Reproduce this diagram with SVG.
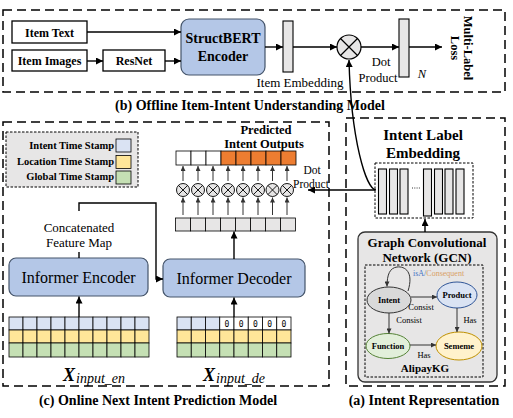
<svg xmlns="http://www.w3.org/2000/svg" width="513" height="418" viewBox="0 0 513 418" font-family="'Liberation Serif', 'Times New Roman', serif">
<defs>
<marker id="ah" viewBox="0 0 10 10" refX="10" refY="5" markerWidth="8" markerHeight="7" markerUnits="userSpaceOnUse" orient="auto">
<path d="M0,0 L10,5 L0,10 z" fill="#000"/>
</marker>
<marker id="ahs" viewBox="0 0 10 10" refX="10" refY="5" markerWidth="6" markerHeight="5" markerUnits="userSpaceOnUse" orient="auto">
<path d="M0,0 L10,5 L0,10 z" fill="#333"/>
</marker>
<style>
text{font-family:'Liberation Serif','Times New Roman',serif;fill:#000}
text.mono{font-family:'DejaVu Sans Mono',monospace}
.b{font-weight:bold}
.dash{fill:none;stroke:#000;stroke-width:1.5;stroke-dasharray:9 5}
.dot{stroke:#000;stroke-width:1;stroke-dasharray:2.5 1.5}
.box{fill:#fff;stroke:#000;stroke-width:1.3}
.blue{fill:#b4c7e7;stroke:#44546a;stroke-width:1.2}
.bar{fill:#e7e6e6;stroke:#000;stroke-width:1.1}
.ln{fill:none;stroke:#000;stroke-width:1.4}
.lns{fill:none;stroke:#333;stroke-width:1}
.c1{fill:#dae3f3;stroke:#000;stroke-width:0.8}
.c2{fill:#ffe699;stroke:#000;stroke-width:0.8}
.c3{fill:#c5e0b4;stroke:#000;stroke-width:0.8}
.cw{fill:#fff;stroke:#000;stroke-width:0.8}
.cg{fill:#e7e6e6;stroke:#000;stroke-width:0.8}
.co{fill:#ed7d31;stroke:#000;stroke-width:0.8}
.m{font-size:14px}
</style>
</defs>
<rect width="513" height="418" fill="#fff"/>

<!-- section frames -->
<g id="frame-b">
<rect class="dash" x="3" y="10" width="502" height="82"/>
<text class="b m" x="250" y="110" text-anchor="middle">(b) Offline Item-Intent Understanding Model</text>
</g>
<g id="frame-c">
<rect class="dash" x="3" y="122" width="326" height="264"/>
<text class="b m" x="158" y="405" text-anchor="middle">(c) Online Next Intent Prediction Model</text>
</g>
<g id="frame-a">
<rect class="dash" x="346" y="118" width="159" height="268"/>
<text class="b m" x="424" y="405" text-anchor="middle">(a) Intent Representation</text>
</g>

<!-- (b) nodes -->
<g id="item-text">
<rect class="box" x="12" y="21" width="75" height="22"/>
<text class="b" x="49.5" y="36.5" font-size="12" text-anchor="middle">Item Text</text>
</g>
<g id="item-images">
<rect class="box" x="12" y="50" width="75" height="21"/>
<text class="b" x="49.5" y="65" font-size="12" text-anchor="middle">Item Images</text>
</g>
<g id="resnet">
<rect class="box" x="103" y="50" width="62" height="21"/>
<text class="b" x="134" y="65" font-size="12" text-anchor="middle">ResNet</text>
</g>
<g id="structbert">
<rect class="blue" x="181" y="19" width="84" height="56" rx="8"/>
<text class="b" x="223" y="43" font-size="14" text-anchor="middle">StructBERT</text>
<text class="b" x="223" y="61" font-size="14" text-anchor="middle">Encoder</text>
</g>
<g id="item-embedding">
<rect class="bar" x="283" y="21" width="10" height="51"/>
<text x="300" y="87" font-size="13" text-anchor="middle">Item Embedding</text>
</g>
<g id="dot-top">
<circle cx="349" cy="47" r="12" fill="#e7e6e6" stroke="#000" stroke-width="1.2"/>
<path d="M340.5,38.5 L357.5,55.5 M357.5,38.5 L340.5,55.5" stroke="#000" stroke-width="1.2"/>
<text x="381" y="66" font-size="12.5" text-anchor="middle">Dot</text>
<text x="378" y="82" font-size="12.5" text-anchor="middle">Product</text>
</g>
<g id="output-bar">
<rect class="bar" x="399" y="19" width="10" height="58"/>
<text x="422" y="78" font-size="12.5" font-style="italic" text-anchor="middle">N</text>
</g>
<g id="loss">
<text class="b" font-size="12.5" text-anchor="middle" transform="translate(464,48) rotate(90)">Multi-Label</text>
<text class="b" font-size="12.5" text-anchor="middle" transform="translate(451,48) rotate(90)">Loss</text>
</g>

<!-- (c) legend -->
<g id="legend">
<rect x="6" y="132" width="132" height="55" fill="#e7e6e6" class="dot"/>
<text class="b" x="114" y="149" font-size="10.5" text-anchor="end">Intent Time Stamp</text>
<text class="b" x="114" y="164.5" font-size="10.5" text-anchor="end">Location Time Stamp</text>
<text class="b" x="114" y="180" font-size="10.5" text-anchor="end">Global Time Stamp</text>
<rect class="c1" x="116" y="139" width="15" height="13"/>
<rect class="c2" x="116" y="155.5" width="15" height="13"/>
<rect class="c3" x="116" y="171" width="15" height="13"/>
</g>

<g id="informer-encoder">
<rect class="blue" x="9" y="258" width="139" height="38" rx="7"/>
<text x="78.5" y="283" font-size="16" text-anchor="middle">Informer Encoder</text>
</g>
<g id="feature-map-label">
<text x="79" y="232" font-size="13" text-anchor="middle">Concatenated</text>
<text x="79" y="247" font-size="13" text-anchor="middle">Feature Map</text>
</g>

<g id="encoder-input">
<rect class="c1" x="9" y="317" width="14" height="13"/><rect class="c1" x="23" y="317" width="14" height="13"/><rect class="c1" x="37" y="317" width="14" height="13"/><rect class="c1" x="51" y="317" width="14" height="13"/><rect class="c1" x="65" y="317" width="14" height="13"/><rect class="c1" x="79" y="317" width="14" height="13"/><rect class="c1" x="93" y="317" width="14" height="13"/><rect class="c1" x="107" y="317" width="14" height="13"/><rect class="c1" x="121" y="317" width="14" height="13"/><rect class="c1" x="135" y="317" width="14" height="13"/>
<rect class="c2" x="9" y="330" width="14" height="13"/><rect class="c2" x="23" y="330" width="14" height="13"/><rect class="c2" x="37" y="330" width="14" height="13"/><rect class="c2" x="51" y="330" width="14" height="13"/><rect class="c2" x="65" y="330" width="14" height="13"/><rect class="c2" x="79" y="330" width="14" height="13"/><rect class="c2" x="93" y="330" width="14" height="13"/><rect class="c2" x="107" y="330" width="14" height="13"/><rect class="c2" x="121" y="330" width="14" height="13"/><rect class="c2" x="135" y="330" width="14" height="13"/>
<rect class="c3" x="9" y="343" width="14" height="14"/><rect class="c3" x="23" y="343" width="14" height="14"/><rect class="c3" x="37" y="343" width="14" height="14"/><rect class="c3" x="51" y="343" width="14" height="14"/><rect class="c3" x="65" y="343" width="14" height="14"/><rect class="c3" x="79" y="343" width="14" height="14"/><rect class="c3" x="93" y="343" width="14" height="14"/><rect class="c3" x="107" y="343" width="14" height="14"/><rect class="c3" x="121" y="343" width="14" height="14"/><rect class="c3" x="135" y="343" width="14" height="14"/>
<text x="63" y="381" font-size="18" font-weight="bold" font-style="italic">X</text>
<text x="76" y="383" font-size="14" font-style="italic">input_en</text>
</g>

<g id="informer-decoder">
<rect class="blue" x="163" y="259" width="142" height="38" rx="7"/>
<text x="234" y="284" font-size="16" text-anchor="middle">Informer Decoder</text>
</g>

<g id="decoder-input">
<rect class="c1" x="177" y="317" width="14.25" height="13"/><rect class="c1" x="191.25" y="317" width="14.25" height="13"/><rect class="c1" x="205.5" y="317" width="14.25" height="13"/>
<rect class="cw" x="219.75" y="317" width="14.25" height="13"/><rect class="cw" x="234" y="317" width="14.25" height="13"/><rect class="cw" x="248.25" y="317" width="14.25" height="13"/><rect class="cw" x="262.5" y="317" width="14.25" height="13"/><rect class="cw" x="276.75" y="317" width="14.25" height="13"/>
<text class="mono" x="226.9" y="326.5" font-size="8" text-anchor="middle">0</text><text class="mono" x="241.1" y="326.5" font-size="8" text-anchor="middle">0</text><text class="mono" x="255.4" y="326.5" font-size="8" text-anchor="middle">0</text><text class="mono" x="269.6" y="326.5" font-size="8" text-anchor="middle">0</text><text class="mono" x="283.9" y="326.5" font-size="8" text-anchor="middle">0</text>
<rect class="c2" x="177" y="330" width="14.25" height="13"/><rect class="c2" x="191.25" y="330" width="14.25" height="13"/><rect class="c2" x="205.5" y="330" width="14.25" height="13"/><rect class="c2" x="219.75" y="330" width="14.25" height="13"/><rect class="c2" x="234" y="330" width="14.25" height="13"/><rect class="c2" x="248.25" y="330" width="14.25" height="13"/><rect class="c2" x="262.5" y="330" width="14.25" height="13"/><rect class="c2" x="276.75" y="330" width="14.25" height="13"/>
<rect class="c3" x="177" y="343" width="14.25" height="14"/><rect class="c3" x="191.25" y="343" width="14.25" height="14"/><rect class="c3" x="205.5" y="343" width="14.25" height="14"/><rect class="c3" x="219.75" y="343" width="14.25" height="14"/><rect class="c3" x="234" y="343" width="14.25" height="14"/><rect class="c3" x="248.25" y="343" width="14.25" height="14"/><rect class="c3" x="262.5" y="343" width="14.25" height="14"/><rect class="c3" x="276.75" y="343" width="14.25" height="14"/>
<text x="203" y="381" font-size="18" font-weight="bold" font-style="italic">X</text>
<text x="216" y="383" font-size="14" font-style="italic">input_de</text>
</g>

<g id="decoder-output">
<rect class="cg" x="175.5" y="218" width="15" height="13"/><rect class="cg" x="190.5" y="218" width="15" height="13"/><rect class="cg" x="205.5" y="218" width="15" height="13"/><rect class="cg" x="220.5" y="218" width="15" height="13"/><rect class="cg" x="235.5" y="218" width="15" height="13"/><rect class="cg" x="250.5" y="218" width="15" height="13"/><rect class="cg" x="265.5" y="218" width="15" height="13"/><rect class="cg" x="280.5" y="218" width="15" height="13"/>
</g>

<g id="dot-row" stroke="#000" stroke-width="0.9">
<g fill="#e7e6e6">
<circle cx="183" cy="190" r="6.5"/><circle cx="198" cy="190" r="6.5"/><circle cx="213" cy="190" r="6.5"/><circle cx="228" cy="190" r="6.5"/><circle cx="243" cy="190" r="6.5"/><circle cx="258" cy="190" r="6.5"/><circle cx="272.5" cy="190" r="6.5"/><circle cx="287" cy="190" r="6.5"/>
</g>
<path d="M178.4,185.4l9.2,9.2m0,-9.2l-9.2,9.2 M193.4,185.4l9.2,9.2m0,-9.2l-9.2,9.2 M208.4,185.4l9.2,9.2m0,-9.2l-9.2,9.2 M223.4,185.4l9.2,9.2m0,-9.2l-9.2,9.2 M238.4,185.4l9.2,9.2m0,-9.2l-9.2,9.2 M253.4,185.4l9.2,9.2m0,-9.2l-9.2,9.2 M267.9,185.4l9.2,9.2m0,-9.2l-9.2,9.2 M282.4,185.4l9.2,9.2m0,-9.2l-9.2,9.2" fill="none"/>
</g>
<g id="dot-label">
<text x="312" y="174" font-size="11.5" text-anchor="middle">Dot</text>
<text x="311" y="188" font-size="11.5" text-anchor="middle">Product</text>
</g>

<g id="predicted-outputs">
<text class="b" x="266" y="134" font-size="12.5" text-anchor="middle">Predicted</text>
<text class="b" x="264" y="148" font-size="12.5" text-anchor="middle">Intent Outputs</text>
<rect class="cw" x="176" y="151" width="15" height="14"/><rect class="cw" x="191" y="151" width="15" height="14"/><rect class="cw" x="206" y="151" width="15" height="14"/>
<rect class="co" x="221" y="151" width="15" height="14"/><rect class="co" x="236" y="151" width="15" height="14"/><rect class="co" x="251" y="151" width="15" height="14"/><rect class="co" x="266" y="151" width="15" height="14"/><rect class="co" x="281" y="151" width="15" height="14"/>
</g>

<!-- (a) nodes -->
<g id="intent-label-embedding">
<text class="b" x="423" y="140" font-size="15" text-anchor="middle">Intent Label</text>
<text class="b" x="423" y="158" font-size="15" text-anchor="middle">Embedding</text>
<rect x="375" y="163" width="98" height="55" fill="none" class="dot"/>
<rect class="bar" x="378.5" y="169" width="8" height="45"/>
<rect class="bar" x="389.5" y="169" width="8" height="45"/>
<rect class="bar" x="400" y="169" width="8" height="45"/>
<rect class="bar" x="423.5" y="169" width="8" height="47"/>
<rect class="bar" x="434.5" y="169" width="8" height="45"/>
<rect class="bar" x="445" y="169" width="8" height="45"/>
<rect class="bar" x="456" y="169" width="8" height="45"/>
<path d="M412,188 L421,188" stroke="#000" stroke-width="0.8" stroke-dasharray="1 1.3"/>
</g>

<g id="gcn">
<rect x="358" y="232" width="139" height="150" rx="7" fill="#e7e6e6" stroke="#333" stroke-width="1.3"/>
<text class="b" x="427" y="247" font-size="13" text-anchor="middle">Graph Convolutional</text>
<text class="b" x="427" y="262" font-size="13" text-anchor="middle">Network (GCN)</text>
<rect x="365" y="265" width="118" height="112" fill="none" class="dot" stroke-width="0.8"/>
<text class="b" x="425" y="372" font-size="11" text-anchor="middle">AlipayKG</text>
</g>
<g id="kg-intent">
<ellipse cx="389" cy="300" rx="22" ry="13" fill="#d9d9d9" stroke="#333" stroke-width="1"/>
<text class="b" x="389" y="303" font-size="8.5" text-anchor="middle">Intent</text>
</g>
<g id="kg-product">
<ellipse cx="457" cy="295" rx="20" ry="13" fill="#dae3f3" stroke="#2f5597" stroke-width="1"/>
<text class="b" x="457" y="298" font-size="8.5" text-anchor="middle">Product</text>
</g>
<g id="kg-function">
<ellipse cx="388" cy="346" rx="22" ry="12.5" fill="#e2efda" stroke="#548235" stroke-width="1"/>
<text class="b" x="388" y="349" font-size="8.5" text-anchor="middle">Function</text>
</g>
<g id="kg-sememe">
<ellipse cx="459" cy="346" rx="23" ry="14" fill="#fff2cc" stroke="#bf9000" stroke-width="1"/>
<text class="b" x="459" y="349" font-size="8.5" text-anchor="middle">Sememe</text>
</g>
<g id="kg-labels">
<text x="413" y="276" font-size="8"><tspan fill="#4472c4">isA/</tspan><tspan fill="#d9a066">Consequent</tspan></text>
<text x="421" y="310" font-size="8.5" text-anchor="middle">Consist</text>
<text x="409" y="323" font-size="8.5" text-anchor="middle">Consist</text>
<text x="470" y="323" font-size="8.5" text-anchor="middle">Has</text>
<text x="424" y="358" font-size="8.5" text-anchor="middle">Has</text>
</g>

<!-- connectors -->
<g id="connectors">
<path class="ln" d="M87,32 L181,32" marker-end="url(#ah)"/>
<path class="ln" d="M87,61 L103,61" marker-end="url(#ah)"/>
<path class="ln" d="M165,61 L181,61" marker-end="url(#ah)"/>
<path class="ln" d="M265,47 L283,47" marker-end="url(#ah)"/>
<path class="ln" d="M293,47 L337,47" marker-end="url(#ah)"/>
<path class="ln" d="M361,47 L399,47" marker-end="url(#ah)"/>
<path class="ln" d="M409,47 L442,47" marker-end="url(#ah)"/>
<path class="ln" d="M376,190 C366,189 351,140 349,60" marker-end="url(#ah)"/>
<path class="ln" d="M375,190 L308,190" marker-end="url(#ah)"/>
<path class="ln" d="M425,232 L425,219" marker-end="url(#ah)"/>
<path class="ln" d="M79,317 L79,296.5" marker-end="url(#ah)"/>
<path class="ln" d="M234,317 L234,297.5" marker-end="url(#ah)"/>
<path class="ln" d="M234,259 L234,231.5" marker-end="url(#ah)"/>
<path class="ln" d="M79,258 L79,252"/>
<path class="ln" d="M79,211 L79,203 L156,203 L156,279 L163,279" marker-end="url(#ah)"/>
<g class="lns">
<path d="M183,215 L183,197.5" marker-end="url(#ahs)"/><path d="M198,215 L198,197.5" marker-end="url(#ahs)"/><path d="M213,215 L213,197.5" marker-end="url(#ahs)"/><path d="M228,215 L228,197.5" marker-end="url(#ahs)"/><path d="M243,215 L243,197.5" marker-end="url(#ahs)"/><path d="M258,215 L258,197.5" marker-end="url(#ahs)"/><path d="M272.5,215 L272.5,197.5" marker-end="url(#ahs)"/><path d="M287,215 L287,197.5" marker-end="url(#ahs)"/>
<path d="M183,181 L183,166" marker-end="url(#ahs)"/><path d="M198,181 L198,166" marker-end="url(#ahs)"/><path d="M213,181 L213,166" marker-end="url(#ahs)"/><path d="M228,181 L228,166" marker-end="url(#ahs)"/><path d="M243,181 L243,166" marker-end="url(#ahs)"/><path d="M258,181 L258,166" marker-end="url(#ahs)"/><path d="M272.5,181 L272.5,166" marker-end="url(#ahs)"/><path d="M287,181 L287,166" marker-end="url(#ahs)"/>
<path d="M411,297 L437,297" marker-end="url(#ahs)"/>
<path d="M389,313 L389,333.5" marker-end="url(#ahs)"/>
<path d="M457,308 L457,332" marker-end="url(#ahs)"/>
<path d="M410,345 L436,345" marker-end="url(#ahs)"/>
<path d="M408,291 C414,272 405,266 397,267 C390,268 387,274 387,286.5" marker-end="url(#ahs)"/>
</g>
</g>
</svg>
